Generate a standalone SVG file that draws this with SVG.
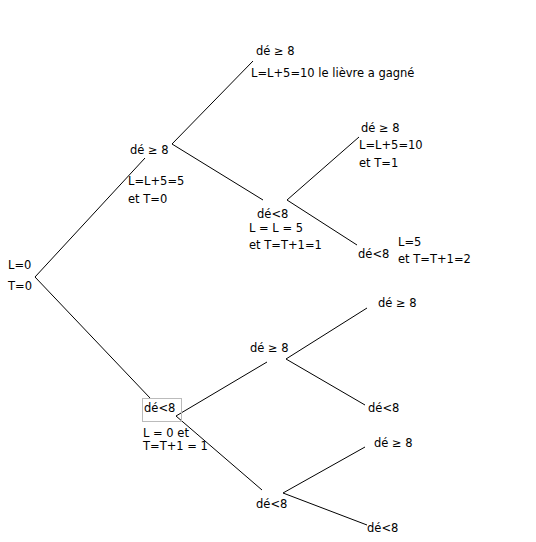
<svg xmlns="http://www.w3.org/2000/svg" width="536" height="542" viewBox="0 0 536 542">
<style>
text{font-family:"DejaVu Sans","Liberation Sans",sans-serif;font-size:11.5px;fill:#000}
.c line{stroke:#000;stroke-width:1;fill:none}
</style>
<rect width="536" height="542" fill="#fff"/>
<g class="c" id="connectors">
<line x1="35" y1="277" x2="145" y2="158"/>
<line x1="35" y1="277" x2="150" y2="398"/>
<line x1="172" y1="144" x2="253" y2="61"/>
<line x1="172" y1="144" x2="263" y2="200"/>
<line x1="287" y1="200" x2="359" y2="137"/>
<line x1="287" y1="200" x2="357" y2="245"/>
<line x1="176" y1="416" x2="267" y2="362"/>
<line x1="176" y1="416" x2="262" y2="490"/>
<line x1="286" y1="359" x2="367" y2="308"/>
<line x1="286" y1="359" x2="365" y2="405"/>
<line x1="283" y1="493" x2="365" y2="447"/>
<line x1="283" y1="493" x2="367" y2="525"/>
</g>
<g id="root"><text x="8" y="269">L=0</text><text x="8" y="290">T=0</text></g>
<g id="n1"><text x="130" y="154">dé ≥ 8</text><text x="128" y="185">L=L+5=5</text><text x="128" y="203">et T=0</text></g>
<g id="n2"><text x="256" y="55">dé ≥ 8</text><text x="251" y="77">L=L+5=10 le lièvre a gagné</text></g>
<g id="n3"><text x="257" y="218">dé&lt;8</text><text x="249" y="232">L = L = 5</text><text x="249" y="249">et T=T+1=1</text></g>
<g id="n4"><text x="361" y="132">dé ≥ 8</text><text x="359" y="149">L=L+5=10</text><text x="359" y="167">et T=1</text></g>
<g id="n5"><text x="358" y="258">dé&lt;8</text><text x="398" y="246">L=5</text><text x="398" y="263">et T=T+1=2</text></g>
<g id="n6"><rect x="142.5" y="398.5" width="39" height="23" fill="none" stroke="#bbb" stroke-width="1"/><text x="144" y="412">dé&lt;8</text><text x="143" y="437">L = 0 et</text><text x="143" y="450">T=T+1 = 1</text></g>
<g id="n7"><text x="250" y="352">dé ≥ 8</text></g>
<g id="n8"><text x="378" y="307">dé ≥ 8</text></g>
<g id="n9"><text x="368" y="412">dé&lt;8</text></g>
<g id="n10"><text x="256" y="508">dé&lt;8</text></g>
<g id="n11"><text x="374" y="447">dé ≥ 8</text></g>
<g id="n12"><text x="367" y="532">dé&lt;8</text></g>
</svg>
